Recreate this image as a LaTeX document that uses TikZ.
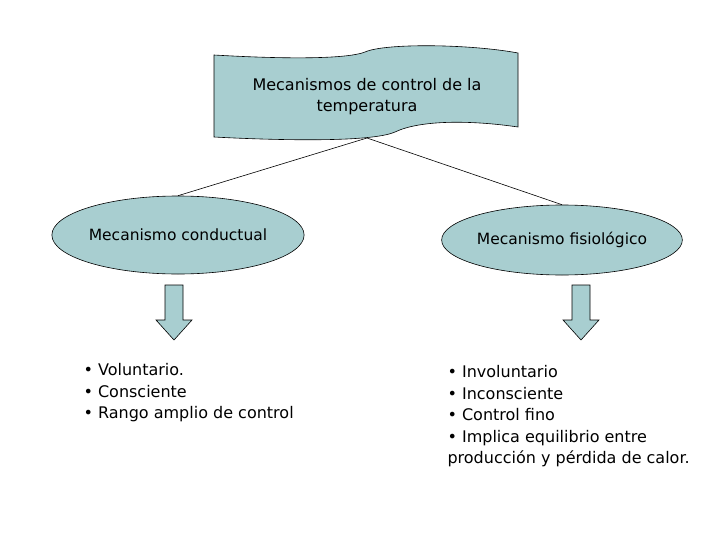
\documentclass[tikz,border=0pt]{standalone}
\usepackage{fontspec}
\setmainfont{DejaVu Sans}
\usetikzlibrary{shapes.geometric}
\definecolor{teal1}{RGB}{168,206,208}
\tikzset{
 ell/.style={ellipse,draw=black,fill=teal1,line width=0.6pt,inner sep=0pt,font=\fontsize{15.5}{18}\selectfont},
 blk/.style={draw=black,fill=teal1,line width=0.6pt},
 txt/.style={align=left,anchor=north west,font=\fontsize{16}{21.5}\selectfont},
 conn/.style={draw=black,line width=0.6pt}
}
\begin{document}
\begin{tikzpicture}[x=1pt,y=-1pt]
\useasboundingbox (0,0) rectangle (728,546);
\fill[white] (0,0) rectangle (728,546);
\draw[fill=teal1,line width=0.6pt] (214,55) .. controls (300,60) and (350,58) .. (365,52)
 .. controls (385,43) and (470,44) .. (518,53) -- (518,127)
 .. controls (470,120) and (420,120) .. (395,132)
 .. controls (370,143) and (270,140) .. (214,137) -- cycle;
\node[font=\fontsize{16}{21}\selectfont,align=center] (top) at (367,97) {Mecanismos de control de la\\temperatura};
\coordinate (j) at (367,138);
\node[ell,minimum width=228pt,minimum height=78pt] (l) at (178,235) {Mecanismo conductual};
\node[ell,minimum width=238pt,minimum height=70pt] (r) at (562,240) {Mecanismo fisiológico};
\draw[conn] (j) -- (l.north);
\draw[conn] (j) -- (r.north);
\coordinate (al) at (174,285);
\coordinate (ar) at (581,285);
\foreach \a in {al,ar}{
 \draw[blk] (\a) ++(-9,0) -- ++(18,0) -- ++(0,35) -- ++(9,0) -- ++(-18,20) -- ++(-18,-20) -- ++(9,0) -- cycle;
}
\node[txt] (tl) at (80,360) {• Voluntario.\\• Consciente\\• Rango amplio de control};
\node[txt] (tr) at (444,362) {• Involuntario\\• Inconsciente\\• Control fino\\• Implica equilibrio entre\\producción y pérdida de calor.};
\end{tikzpicture}
\end{document}
